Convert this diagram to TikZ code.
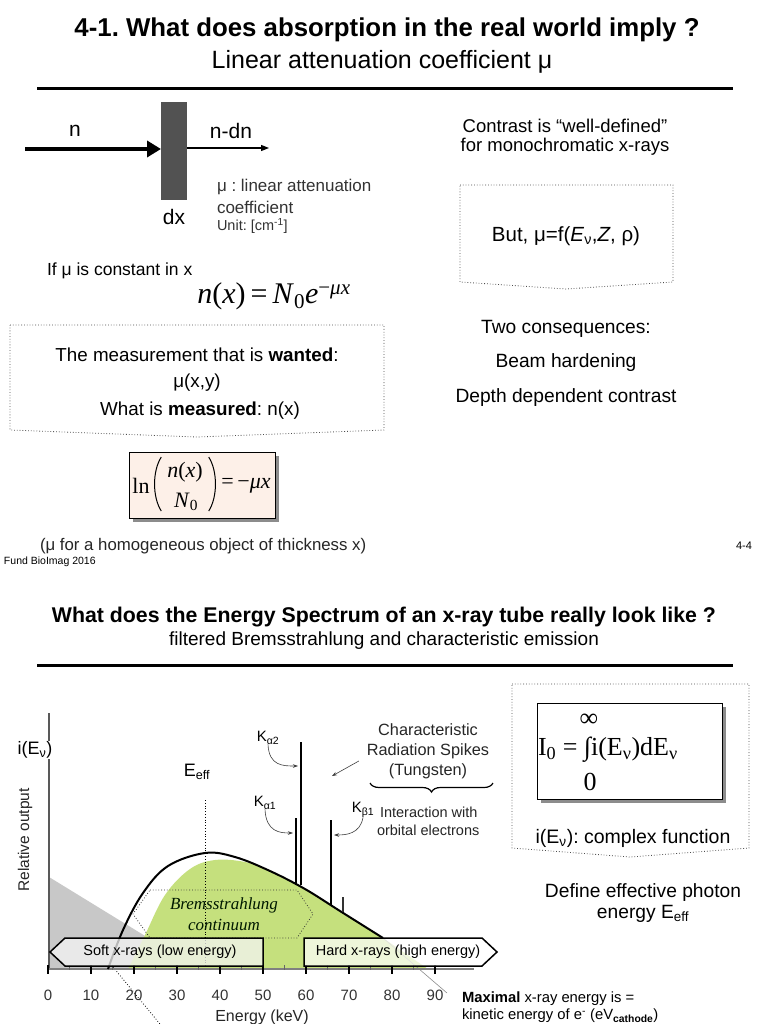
\documentclass[tikz,border=0pt]{standalone}
\usepackage{fontspec}
\setmainfont{Liberation Sans}
\newfontfamily\tms{Liberation Serif}
\usetikzlibrary{arrows.meta,shadows,decorations.pathreplacing}
\definecolor{spgreen}{RGB}{197,224,125}
\definecolor{pinkbg}{RGB}{253,240,232}
\definecolor{softgray}{RGB}{200,200,200}
\newcommand{\fsz}[1]{\fontsize{#1}{#1}\selectfont}
\frenchspacing
\begin{document}
\begin{tikzpicture}[x=1pt,y=-1pt,
  lbl/.style={inner sep=0pt, outer sep=0pt},
  callout/.style={dotted, line width=0.8pt, black!70},
  kl/.style={lbl, font=\fsz{15}},
  curvarrow/.style={-{Stealth[length=5pt,width=3.5pt]}, line width=0.6pt, black!75},
  tickmark/.style={line width=1.2pt},
  shadowbox/.style={draw, line width=1pt, drop shadow={shadow xshift=4pt, shadow yshift=-4pt, fill=black!45, opacity=1}},
  frm/.style={lbl, font=\tms\fsz{22}},
]
\useasboundingbox (0,0) rectangle (768,1024);
\fill[white] (0,0) rectangle (768,1024);

% ---------- upper slide ----------
\node[lbl, font=\bfseries\fsz{25.8}] (title1) at (387,30) {4-1. What does absorption in the real world imply ?};
\node[lbl, font=\fsz{25}] (sub1) at (382,62) {Linear attenuation coefficient μ};
\coordinate (r1a) at (37,89); \coordinate (r1b) at (733,89);
\draw[line width=3pt] (r1a) -- (r1b);

% slab
\node[lbl, fill=black!68, minimum width=26, minimum height=98] (slab) at (174,151) {};
\coordinate (nstart) at (25,149);
\coordinate (nend) at (269,148);
\draw[line width=4pt, -{Triangle[length=14pt,width=16pt]}] (nstart) -- (slab.west |- nstart);
\draw[line width=1.3pt, -{Triangle[length=8pt,width=6pt]}] (slab.east |- nend) -- (nend);
\node[lbl, font=\fsz{21}] (nlab) at (75,131) {n};
\node[lbl, font=\fsz{21}] (ndn) at (231,131) {n-dn};
\node[lbl, font=\fsz{21}] (dx) at (174,217) {dx};
\node[lbl, font=\fsz{17}, anchor=west, black!80] (mu1) at (217,187) {μ : linear attenuation};
\node[lbl, font=\fsz{17}, anchor=west, black!80] (mu2) at (217,207) {coefficient};
\node[lbl, font=\fsz{14.5}, anchor=west, black!80] (unit) at (217,226) {Unit: [cm\textsuperscript{-1}]};

\node[lbl, font=\fsz{17.5}, anchor=west] (ifmu) at (47,271) {If μ is constant in x};
\node[lbl, font=\tms\fsz{30}] (nform) at (274,296) {\textit{n}(\textit{x})\,=\,\textit{N}\textsubscript{0}\textit{e}\textsuperscript{−\textit{μx}}};

% callout 1
\draw[callout] (10,325) -- (384,325) -- (384,430) -- (197,437) -- (10,430) -- cycle;
\node[lbl, font=\fsz{18.8}] (want) at (197,355) {The measurement that is \textbf{wanted}:};
\node[lbl, font=\fsz{18.8}] (muxy) at (197,383) {μ(x,y)};
\node[lbl, font=\fsz{18.8}] (meas) at (200,411) {What is \textbf{measured}: n(x)};

% ln formula box
\node[shadowbox, fill=pinkbg, minimum width=146, minimum height=66, inner sep=0pt] (lnbox) at (202,485) {};
\node[frm] (lnln) at (141,486) {ln};
\node[frm] (lnnum) at (185,472) {\textit{n}(\textit{x})};
\node[frm] (lnden) at (186,502) {\textit{N}\textsubscript{0}};
\node[frm] (lnrhs) at (246,486) {=\,−\textit{μx}};
\draw[line width=1pt] (lnnum.north west) ++(-6,-5) coordinate (lpT) .. controls +(-9,14) and +(-9,-14) .. ++(0,54);
\draw[line width=1pt] (lnnum.north east) ++(6,-5) coordinate (rpT) .. controls +(9,14) and +(9,-14) .. ++(0,54);

\node[lbl, font=\fsz{16.8}, anchor=west, black!85] (homog) at (40,546) {(μ for a homogeneous object of thickness x)};
\node[lbl, font=\fsz{10.5}, anchor=west] (fund) at (4,562) {Fund BioImag 2016};
\node[lbl, font=\fsz{11}, anchor=west] (pg) at (736,546) {4-4};

% right column
\node[lbl, font=\fsz{18.5}] (contr1) at (565,126) {Contrast is “well-defined”};
\node[lbl, font=\fsz{18.5}] (contr2) at (565,147) {for monochromatic x-rays};
\draw[callout] (460,185) -- (673,185) -- (673,282) -- (566,289) -- (460,282) -- cycle;
\node[lbl, font=\fsz{20.5}] (but) at (566,236) {But, μ=f(\textit{E}\textsubscript{ν},\textit{Z}, ρ)};
\node[lbl, font=\fsz{19.2}] (two) at (566,329) {Two consequences:};
\node[lbl, font=\fsz{19.2}] (beam) at (566,363) {Beam hardening};
\node[lbl, font=\fsz{19.2}] (depth) at (566,398) {Depth dependent contrast};

% ---------- lower slide ----------
\node[lbl, font=\bfseries\fsz{21.3}] (title2) at (384,617) {What does the Energy Spectrum of an x-ray tube really look like ?};
\node[lbl, font=\fsz{19}] (sub2) at (384,641) {filtered Bremsstrahlung and characteristic emission};
\coordinate (r2a) at (37,665); \coordinate (r2b) at (733,665);
\draw[line width=3pt] (r2a) -- (r2b);

% chart background shapes
\fill[softgray] (49,877) -- (49,969) -- (199,969) -- cycle;
\fill[spgreen] plot[smooth, tension=0.6] coordinates {(128,969) (145,935) (165,895) (190,869) (215,860) (245,862) (270,871) (305,889) (340,911) (383,938)} -- (428,969) -- cycle;
\draw[dotted, line width=0.8pt, black!80] (150,890) -- (297,890) -- (313,914) -- (297,938) -- (150,938) -- (133,914) -- cycle;
\node[lbl, font=\tms\itshape\fsz{17}, black!75!green!40!black] (brems1) at (224,905) {Bremsstrahlung};
\node[lbl, font=\tms\itshape\fsz{17}, black!75!green!40!black] (brems2) at (224,925) {continuum};
\coordinate (effT) at (205,800); \coordinate (effB) at (205,969);
\draw[dotted, line width=0.8pt] (effT) -- (effB);
\coordinate (diagA) at (113,967); \coordinate (diagB) at (160,1024);
\draw[dotted, line width=0.8pt] (diagA) -- (diagB);
\coordinate (tailA) at (383,938); \coordinate (tailB) at (447,993);
\draw[black!45, line width=0.6pt] (tailA) -- (tailB);

% axes
\coordinate (yaxT) at (49,713); \coordinate (orig) at (49,969); \coordinate (xaxR) at (474,969);
\draw[black!65, line width=1.5pt] (yaxT) -- (orig);
\draw[black!50, line width=2pt] (orig) -- (xaxR);
\foreach \e in {0,10,...,90} {
  \draw[tickmark] ({48+4.3*\e},965) -- ({48+4.3*\e},974);
  \node[lbl, font=\fsz{15}, black!80] at ({48+4.3*\e},995) {\e};
}
\foreach \e in {5,15,...,85} {
  \draw[line width=0.6pt, black!60] ({48+4.3*\e},965) -- ({48+4.3*\e},970);
}
\node[lbl, fill=white, inner sep=1pt, font=\fsz{18}] (iEv) at (35,750) {i(E\textsubscript{ν})};
\node[lbl, font=\fsz{15.5}, rotate=90, black!85] (relout) at (25,840) {Relative output};
\node[lbl, font=\fsz{16}, anchor=north, black!85] (energy) at (262,1010) {Energy (keV)};
\node[lbl, font=\fsz{18}] (eeff) at (197,772) {E\textsubscript{eff}};

% spectrum curve and spikes
\draw[line width=2pt] plot[smooth, tension=0.6] coordinates {(108,969) (123,930) (143,893) (168,866) (205,853) (235,857) (270,871) (305,889) (340,911) (383,938)};
\draw[line width=2pt] (296,885) -- (296,818);
\draw[line width=2pt] (301,885) -- (301,742);
\draw[line width=2pt] (331,905) -- (331,820);
\draw[line width=1.5pt, black!80] (343,912) -- (343,897);

% soft / hard arrows
\draw[line width=1.5pt, fill=black!4, fill opacity=0.75] (50,952) -- (65,938) -- (263,938) -- (263,966) -- (65,966) -- cycle;
\node[lbl, font=\fsz{14.5}] (soft) at (160,952) {Soft x-rays (low energy)};
\draw[line width=1.5pt, fill=white, fill opacity=0.72] (304,938) -- (482,938) -- (497,952) -- (482,966) -- (304,966) -- cycle;
\node[lbl, font=\fsz{14.5}] (hard) at (398,952) {Hard x-rays (high energy)};

% spike labels
\node[kl] (ka2) at (268,738) {K\textsubscript{α2}};
\node[kl] (ka1) at (265,803) {K\textsubscript{α1}};
\node[kl] (kb1) at (363,810) {K\textsubscript{β1}};
\coordinate (ka2t) at (298,766);
\coordinate (ka1t) at (293,833);
\coordinate (kb1t) at (334,835);
\draw[curvarrow] (ka2.south) .. controls (269,766) and (283,766) .. (ka2t);
\draw[curvarrow] (ka1.south) .. controls (266,832) and (280,833) .. (ka1t);
\draw[curvarrow] (kb1.south) .. controls (360,834) and (346,835) .. (kb1t);
\node[lbl, font=\fsz{14.5}, anchor=west, black!85] (inter1) at (380,812) {Interaction with};
\node[lbl, font=\fsz{14.5}, anchor=west, black!85] (inter2) at (377,830) {orbital electrons};
\node[lbl, font=\fsz{16.3}, black!85] (char1) at (428,730) {Characteristic};
\node[lbl, font=\fsz{16.3}, black!85] (char2) at (428,751) {Radiation Spikes};
\node[lbl, font=\fsz{16.3}, black!85] (char3) at (428,771) {(Tungsten)};
\coordinate (spk) at (332,776);
\draw[curvarrow] (char2.west) ++(-8,10) -- (spk);
\coordinate (brL) at (370,783); \coordinate (brR) at (493,783);
\draw[line width=1.2pt, decorate, decoration={brace, amplitude=9pt, mirror}] (brL) -- (brR);

% right bottom
\draw[callout] (512,684) -- (749,684) -- (749,848) -- (630,857) -- (512,848) -- cycle;
\node[shadowbox, fill=white, minimum width=185, minimum height=96, inner sep=0pt] (intbox) at (629.5,751) {};
\node[lbl, font=\tms\fsz{26}, anchor=west] (i0) at (538,750) {I\textsubscript{0} = ∫i(E\textsubscript{ν})dE\textsubscript{ν}};
\node[lbl, font=\tms\fsz{26}] (infty) at (589,720) {∞};
\node[lbl, font=\tms\fsz{26}] (zero) at (590,782) {0};
\node[lbl, font=\fsz{19.5}] (cplx) at (633,838) {i(E\textsubscript{ν}): complex function};
\node[lbl, font=\fsz{19.2}] (def1) at (643,893) {Define effective photon};
\node[lbl, font=\fsz{19.2}] (def2) at (643,914) {energy E\textsubscript{eff}};
\node[lbl, font=\fsz{14.8}, anchor=west] (max1) at (462,999) {\textbf{Maximal} x-ray energy is =};
\node[lbl, font=\fsz{14.8}, anchor=west] (max2) at (462,1016) {kinetic energy of e\textsuperscript{-} (eV\textsubscript{\textbf{cathode}})};
\end{tikzpicture}
\end{document}
